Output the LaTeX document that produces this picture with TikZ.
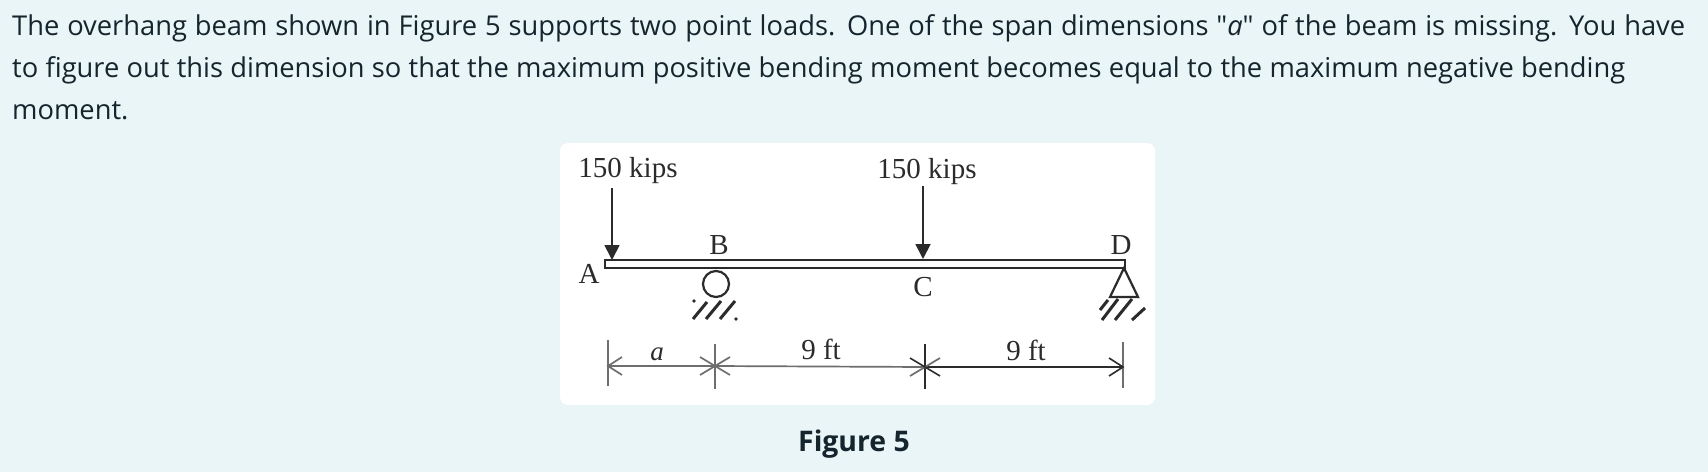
\documentclass[tikz,border=0pt]{standalone}
\usepackage{fontspec}
\setmainfont{Liberation Serif}
\newfontfamily\uifont{Open Sans}
\usetikzlibrary{arrows.meta}
\definecolor{pagebg}{HTML}{E9F5F7}
\definecolor{inkc}{HTML}{15252D}
\definecolor{figc}{HTML}{2B2B2B}
\definecolor{dimc}{HTML}{6E6E6E}
\tikzset{
 x=1pt,y=-1pt,
 bodyline/.style={anchor=base west,inner sep=0pt,text=inkc,font=\uifont\fontsize{27.3}{30}\selectfont},
 figlabel/.style={inner sep=0pt,text=figc,font=\fontsize{29}{30}\selectfont},
 beamline/.style={draw=figc,line width=2.6pt},
 loadarrow/.style={draw=figc,line width=1.8pt,-{Triangle[length=15pt,width=15pt]}},
 dimline/.style={draw=dimc,line width=1.7pt},
 dimdark/.style={draw=figc,line width=1.6pt},
 hatchline/.style={draw=figc,line width=3pt},
}
\begin{document}
\begin{tikzpicture}
\useasboundingbox (0,0) rectangle (1708,472);
\fill[pagebg] (0,0) rectangle (1708,472);
\node[bodyline] (l1) at (12,35.5) {\hbox to 1673pt{The overhang beam shown in Figure 5 supports two point loads. One of the span dimensions "\textit{a}" of the beam is missing. You have}};
\node[bodyline] (l2) at (12,77.5) {\hbox to 1613pt{to figure out this dimension so that the maximum positive bending moment becomes equal to the maximum negative bending}};
\node[bodyline] (l3) at (12,119.5) {moment.};
\fill[white,rounded corners=8pt] (560,143) rectangle (1155,405);
% beam
\draw[beamline,fill=white] (605,260) rectangle (1125,268);
% loads
\coordinate (a0) at (612,188); \coordinate (a1) at (612,260);
\coordinate (c0) at (923,186); \coordinate (c1) at (923,259);
\draw[loadarrow] (a0) -- (a1);
\draw[loadarrow] (c0) -- (c1);
\node[figlabel] (k1) at (628,170.5) {150 kips};
\node[figlabel] (k2) at (927,172) {150 kips};
\node[figlabel] (A) at (589,274) {A};
\node[figlabel] (B) at (719,245) {B};
\node[figlabel] (C) at (923,287) {C};
\node[figlabel] (D) at (1121,245) {D};
% roller
\draw[figc,line width=2.2pt,fill=white] (716,284) circle (13);
\draw[hatchline] (693,319) -- (707,302);
\draw[hatchline] (706,319) -- (721,301);
\draw[hatchline] (720,319) -- (735,301);
\fill[figc] (694,301) circle (1.8) (736,319) circle (1.8);
% pin
\draw[figc,line width=2.2pt] (1124,268) -- (1110,297) -- (1138,297) -- cycle;
\draw[hatchline] (1100,310) -- (1108,300);
\draw[hatchline] (1102,320) -- (1118,299);
\draw[hatchline] (1115,320) -- (1132,299);
\draw[hatchline] (1132,320) -- (1145,308);
% dimensions
\coordinate (dA) at (608,366); \coordinate (dB) at (715,366);
\coordinate (dC) at (925,367); \coordinate (dD) at (1123,367);
\draw[dimline] (dA) -- (dB) -- (dC);
\draw[dimdark] (dC) -- (dD);
\draw[dimline] (608,340) -- (608,386);
\draw[dimline] (715,344) -- (715,389);
\draw[dimdark] (925,344) -- (925,389);
\draw[dimline] (1123,342) -- (1123,388);
\draw[dimline] (622,357) -- (dA) -- (622,375);
\draw[dimline] (700,357) -- (730,375) (700,375) -- (730,357);
\draw[dimline] (910,376) -- (940,358);
\draw[dimdark] (910,358) -- (940,376);
\draw[dimdark] (1109,358) -- (dD) -- (1109,376);
\node[figlabel,font=\itshape\fontsize{27}{30}\selectfont] (an) at (657,354) {a};
\node[figlabel] (n1) at (821,349) {9 ft};
\node[figlabel] (n2) at (1026,350) {9 ft};
\node[inner sep=0pt,text=inkc,font=\uifont\bfseries\fontsize{28.4}{30}\selectfont] (fig) at (854,444) {Figure 5};
\end{tikzpicture}
\end{document}
